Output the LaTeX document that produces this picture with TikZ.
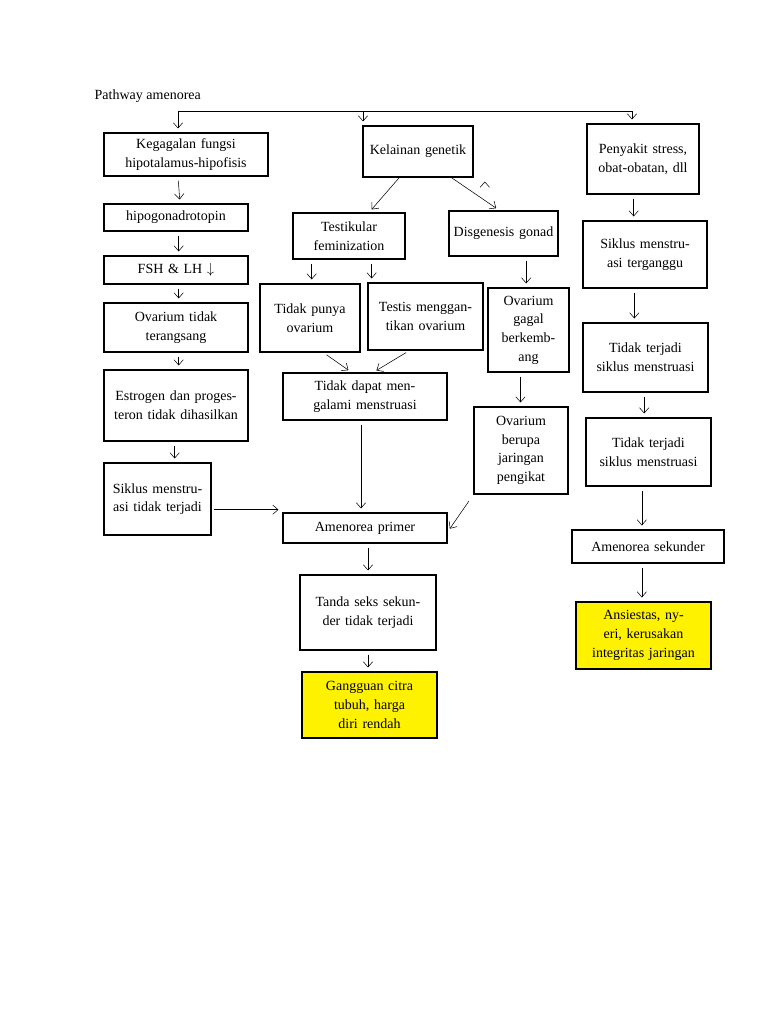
\documentclass[tikz,border=0pt]{standalone}
\usepackage{fontspec}
\setmainfont{Liberation Serif}
\usetikzlibrary{arrows.meta}
\begin{document}
\begin{tikzpicture}[x=0.75pt,y=-0.75pt,
  box/.style={draw,thick,align=center,inner sep=1pt,font=\fontsize{10.5}{14}\selectfont},
  hl/.style={box,fill=yellow},
  arr/.style={-{Straight Barb[length=4pt,width=7pt]},shorten <=3pt,shorten >=3pt}]
\useasboundingbox (0,0) rectangle (768,1024);
\newcommand\bx[7][box]{\node[#1,minimum width={(#4-#3)*0.75pt},minimum height={(#6-#5)*0.75pt},text width={(#4-#3-8)*0.75pt}] (#2) at ({(#3+#4)/2},{(#5+#6)/2}) {#7};}
\node[font=\fontsize{10.5}{14}\selectfont,anchor=west] (title) at (90,96) {Pathway amenorea};
\bx{a1}{104}{268}{133}{176}{Kegagalan fungsi hipotalamus-hipofisis}
\bx{a2}{104}{248}{204}{231}{hipogonadrotopin}
\bx{a3}{104}{248}{256}{284}{FSH \& LH $\downarrow$}
\bx{a4}{104}{248}{303}{352}{Ovarium tidak terangsang}
\bx{a5}{104}{248}{370}{441}{Estrogen dan progesteron tidak dihasilkan}
\bx{a6}{104}{211}{463}{535}{Siklus menstruasi tidak terjadi}
\bx{k}{363}{473}{126}{177}{Kelainan genetik}
\bx{t}{293}{405}{213}{259}{Testikular feminization}
\bx{d}{449}{558}{211}{256}{Disgenesis gonad}
\bx{t1}{260}{360}{284}{352}{Tidak punya ovarium}
\bx{t2}{368}{483}{283}{350}{Testis menggantikan ovarium}
\bx{m}{283}{447}{373}{420}{Tidak dapat mengalami menstruasi}
\bx{d1}{488}{569}{288}{372}{Ovarium gagal berkemb-ang}
\bx{d2}{474}{568}{407}{494}{Ovarium berupa jaringan pengikat}
\bx{ap}{283}{447}{513}{543}{Amenorea primer}
\bx{ts}{300}{436}{575}{650}{Tanda seks sekunder tidak terjadi}
\bx[hl]{g}{302}{437}{672}{738}{Gangguan citra tubuh, harga diri rendah}
\bx{p}{587}{699}{124}{194}{Penyakit stress, obat-obatan, dll}
\bx{r1}{583}{707}{221}{288}{Siklus menstruasi terganggu}
\bx{r2}{583}{708}{323}{392}{Tidak terjadi siklus menstruasi}
\bx{r3}{586}{711}{418}{486}{Tidak terjadi siklus menstruasi}
\bx{as}{572}{724}{530}{563}{Amenorea sekunder}
\bx[hl]{an}{576}{711}{602}{669}{Ansiestas, nyeri, kerusakan integritas jaringan}
\coordinate (c1) at (178,111); \coordinate (c2) at (363,111); \coordinate (c3) at (632,111);
\draw (c1) -- (c3);
\draw[arr,shorten <=0pt] (c1) -- (a1.north -| c1);
\draw[arr,shorten <=0pt] (c2) -- (k.north -| c2);
\draw[arr,shorten <=0pt] (c3) -- (p.north -| c3);
\draw[arr] ([xshift=-6pt]a1.south) -- ([xshift=3pt]a2.north);
\draw[arr] ([xshift=2pt]a2.south) -- ([xshift=2pt]a3.north);
\draw[arr] ([xshift=2pt]a3.south) -- ([xshift=2pt]a4.north);
\draw[arr] ([xshift=2pt]a4.south) -- ([xshift=2pt]a5.north);
\draw[arr] ([xshift=-1pt]a5.south) -- ([xshift=-1pt]a5.south |- a6.north);
\draw[arr,shorten <=2pt] ([yshift=-8pt]a6.east) -- ([yshift=-8pt]a6.east -| ap.west);
\draw[arr,shorten <=0pt] ([xshift=-14pt]k.south) -- ([xshift=15pt]t.north);
\draw[arr,shorten <=0pt] ([xshift=-14pt]k.south -| d.north) ++(0,0) ;
\draw[arr,shorten <=0pt] ([xshift=25pt]k.south) -- ([xshift=-3pt]d.north);
\draw[arr] ([xshift=-28pt]t.south) -- ([xshift=-28pt]t.south |- t1.north);
\draw[arr] ([xshift=17pt]t.south) -- ([xshift=17pt]t.south |- t2.north);
\draw[arr] ([xshift=10pt]t1.south) -- ([xshift=-10pt]m.north);
\draw[arr] ([xshift=-12pt]t2.south) -- ([xshift=6pt]m.north);
\draw[arr] ([xshift=17pt]d.south) -- ([xshift=17pt]d.south |- d1.north);
\draw[arr] ([xshift=-6pt]d1.south) -- ([xshift=-6pt]d1.south |- d2.north);
\draw[arr,shorten <=6pt] (d2.south west) -- ([yshift=-3pt]ap.east);
\draw[arr] ([xshift=-3pt]m.south) -- ([xshift=-3pt]ap.north);
\draw[arr] (ts.north |- ap.south) -- (ts.north);
\draw[arr] (ts.south) -- (ts.south |- g.north);
\draw[arr] ([xshift=-7pt]p.south) -- ([xshift=-7pt]p.south |- r1.north);
\draw[arr] ([xshift=-8pt]r1.south) -- ([xshift=-8pt]r1.south |- r2.north);
\draw[arr] ([xshift=-1pt]r2.south) -- ([xshift=-1pt]r2.south |- r3.north);
\draw[arr] ([xshift=-5pt]r3.south) -- ([xshift=-5pt]r3.south |- as.north);
\draw[arr] ([xshift=-5pt]r3.south |- as.south) -- ([xshift=-5pt]r3.south |- an.north);
\end{tikzpicture}
\end{document}
